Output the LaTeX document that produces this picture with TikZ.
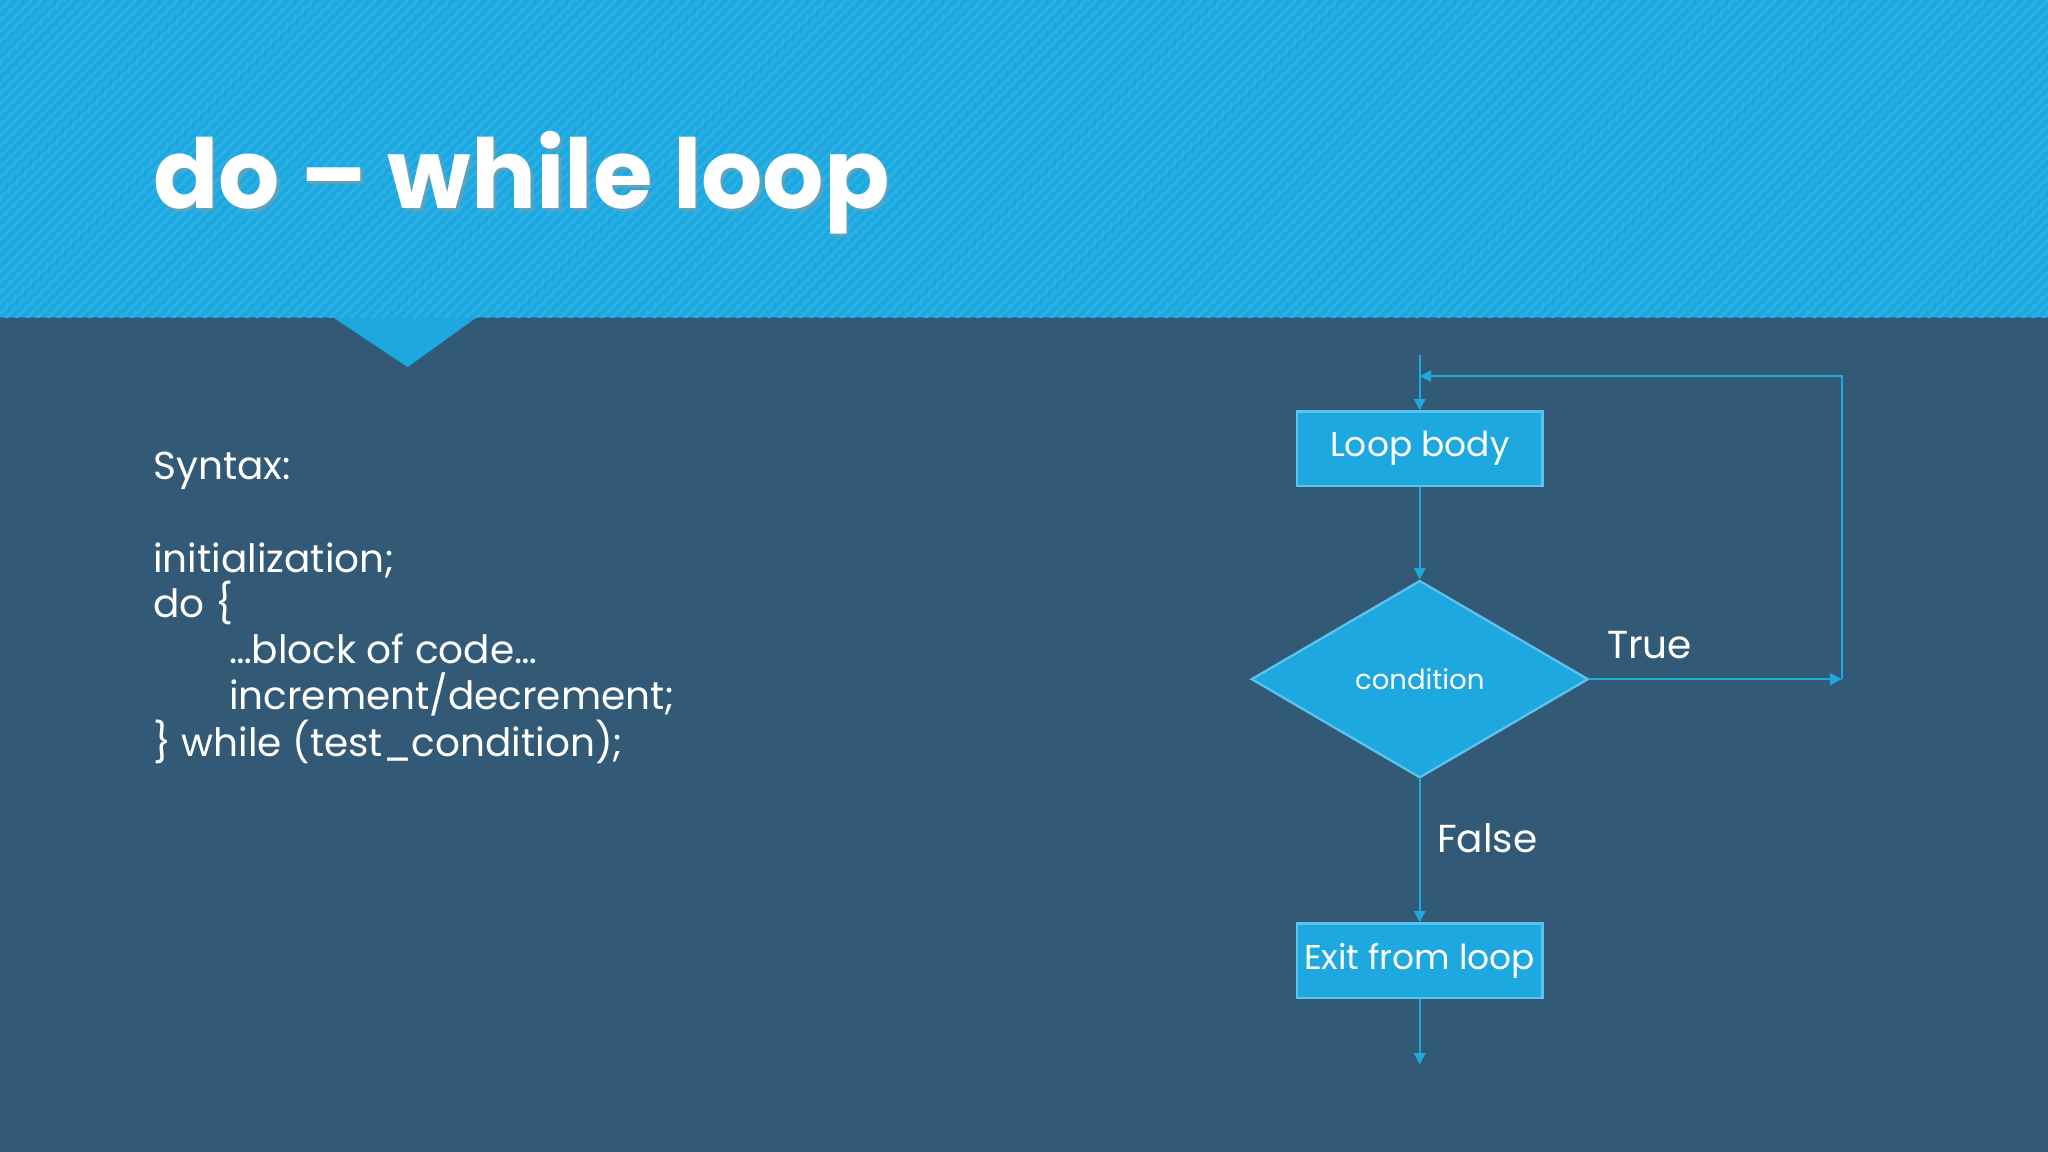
\documentclass[tikz,border=0pt]{standalone}
\usepackage{fontspec}
\setmainfont{Poppins}
\usetikzlibrary{arrows.meta,shapes.geometric}
\definecolor{topblue}{HTML}{1EA8E0}
\definecolor{stripe}{HTML}{2BB0E6}
\definecolor{bg}{HTML}{325A76}
\definecolor{edgec}{HTML}{5CC3EE}
\begin{document}
\begin{tikzpicture}[x=0.02cm,y=-0.02cm,
  box/.style={draw=edgec,fill=topblue,line width=1pt,minimum width=188*0.02cm,minimum height=57*0.02cm,text=white,font=\fontsize{15}{18}\selectfont,inner sep=0},
  conn/.style={draw=topblue,line width=1pt,-{Triangle[length=5pt,width=5pt]}},
  lbl/.style={text=white,font=\fontsize{17}{20}\selectfont,inner sep=0}]
\useasboundingbox (0,0) rectangle (1568,882);
\fill[bg] (0,0) rectangle (1568,882);
\fill[topblue] (0,0) -- (1568,0) -- (1568,243) -- (365,243) -- (312,281) -- (255,243) -- (0,243) -- cycle;
\begin{scope}
\clip (0,0) rectangle (1568,243);
\foreach \i in {0,8,...,1820} {\draw[stripe,line width=1.2pt] (\i,0) -- (\i-250,250);}
\end{scope}
\node[anchor=base west,text=black!40,opacity=0.5,font=\fontsize{42}{48}\selectfont\bfseries,inner sep=0] at (119,162) {do – while loop};
\node[anchor=base west,text=white,font=\fontsize{42}{48}\selectfont\bfseries,inner sep=0] (title) at (117,160) {do – while loop};
\begin{scope}[every node/.style={anchor=base west,text=white,font=\fontsize{17}{20}\selectfont,inner sep=0}]
\node (s0) at (117,367) {Syntax:};
\node (s1) at (117,438) {initialization;};
\node (s2) at (117,473) {do \{};
\node (s3) at (175,508) {…block of code…};
\node (s4) at (175,543) {increment/decrement;};
\node (s5) at (117,579) {\} while (test\_condition);};
\end{scope}
\node[box] (body) at (1087,343.5) {Loop body};
\node[draw=edgec,fill=topblue,line width=1pt,diamond,minimum width=258*0.02cm,minimum height=151*0.02cm,inner sep=0,text=white,font=\fontsize{12}{14}\selectfont,shape aspect=1.7] (cond) at (1087,520) {condition};
\node[box] (exit) at (1087,735.5) {Exit from loop};
\coordinate (start) at (1087,272);
\coordinate (tr) at (1410,520);
\coordinate (tt) at (1410,288);
\coordinate (tl) at (1087,288);
\coordinate (endp) at (1087,815);
\draw[conn] (start) -- (body.north);
\draw[conn] (body.south) -- (cond.north);
\draw[conn] (cond.south) -- (exit.north);
\draw[conn] (exit.south) -- (endp);
\draw[conn] (cond.east) -- (tr);
\draw[conn] (tr) -- (tt) -- (tl);
\node[lbl,anchor=base west] (t) at (1230,504) {True};
\node[lbl,anchor=base west] (f) at (1100,653) {False};
\end{tikzpicture}
\end{document}
